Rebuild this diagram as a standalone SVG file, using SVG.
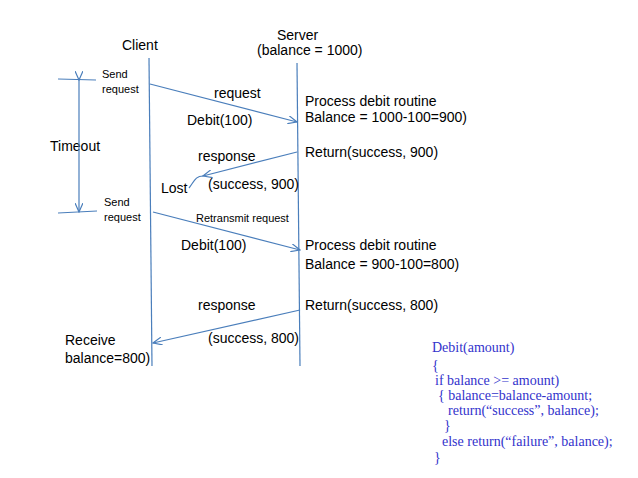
<svg xmlns="http://www.w3.org/2000/svg" width="638" height="478" viewBox="0 0 638 478">
<defs>
<marker id="ah" markerWidth="10" markerHeight="8" refX="9" refY="4" orient="auto" markerUnits="userSpaceOnUse">
<path d="M0,0 L9,4 L0,8" fill="none" stroke="#4a7ebb" stroke-width="1.2"/>
</marker>
</defs>
<style>
text{font-family:"Liberation Sans",Arial,sans-serif;fill:#000}
.m{font-size:14px}
.s{font-size:11px}
.c{font-family:"Liberation Serif","Times New Roman",serif;font-size:14px;fill:#3333cc}
.l{stroke:#4a7ebb;stroke-width:1.2;fill:none}
</style>
<rect width="638" height="478" fill="#fff"/>
<g id="client"><text class="m" x="122" y="50">Client</text><line class="l" x1="149" y1="58" x2="152" y2="366"/></g>
<g id="server"><text class="m" x="277" y="40">Server</text><text class="m" x="257" y="55">(balance = 1000)</text><line class="l" x1="297" y1="63" x2="300" y2="366"/></g>
<g id="labels">
<text class="s" x="102" y="78">Send</text><text class="s" x="102" y="93">request</text>
<text class="s" x="104" y="206">Send</text><text class="s" x="104" y="221">request</text>
<text class="m" x="50" y="151">Timeout</text>
<text class="m" x="214" y="98">request</text>
<text class="m" x="187" y="125">Debit(100)</text>
<text class="m" x="305" y="106">Process debit routine</text>
<text class="m" x="305" y="122">Balance = 1000-100=900)</text>
<text class="m" x="305" y="157">Return(success, 900)</text>
<text class="m" x="198" y="161">response</text>
<text class="m" x="161" y="193">Lost</text>
<text class="m" x="208" y="189">(success, 900)</text>
<text class="s" x="196" y="222">Retransmit request</text>
<text class="m" x="181" y="250">Debit(100)</text>
<text class="m" x="305" y="250">Process debit routine</text>
<text class="m" x="305" y="269">Balance = 900-100=800)</text>
<text class="m" x="198" y="310">response</text>
<text class="m" x="305" y="310">Return(success, 800)</text>
<text class="m" x="208" y="343">(success, 800)</text>
<text class="m" x="65" y="345">Receive</text>
<text class="m" x="65" y="363">balance=800)</text>
</g>
<g id="code">
<text class="c" x="432" y="352">Debit(amount)</text>
<text class="c" x="432" y="370">{</text>
<text class="c" x="435" y="385">if balance &gt;= amount)</text>
<text class="c" x="438" y="400">{ balance=balance-amount;</text>
<text class="c" x="448" y="415">return(“success”, balance);</text>
<text class="c" x="444" y="430">}</text>
<text class="c" x="442" y="446">else return(“failure”, balance);</text>
<text class="c" x="434" y="462">}</text>
</g>
<g id="connectors">
<line class="l" x1="150" y1="84" x2="297" y2="122" marker-end="url(#ah)"/>
<line class="l" x1="297" y1="152" x2="203" y2="176" marker-end="url(#ah)"/>
<path class="l" d="M189,188 C194,182 195,176 203,176"/>
<line class="l" x1="153" y1="212" x2="300" y2="250" marker-end="url(#ah)"/>
<line class="l" x1="300" y1="310" x2="153" y2="343" marker-end="url(#ah)"/>
<line class="l" x1="58" y1="79" x2="96" y2="80"/>
<line class="l" x1="58" y1="213" x2="97" y2="211"/>
<line class="l" x1="79" y1="80" x2="79" y2="212" marker-start="url(#ah)" marker-end="url(#ah)"/>
</g>
</svg>
